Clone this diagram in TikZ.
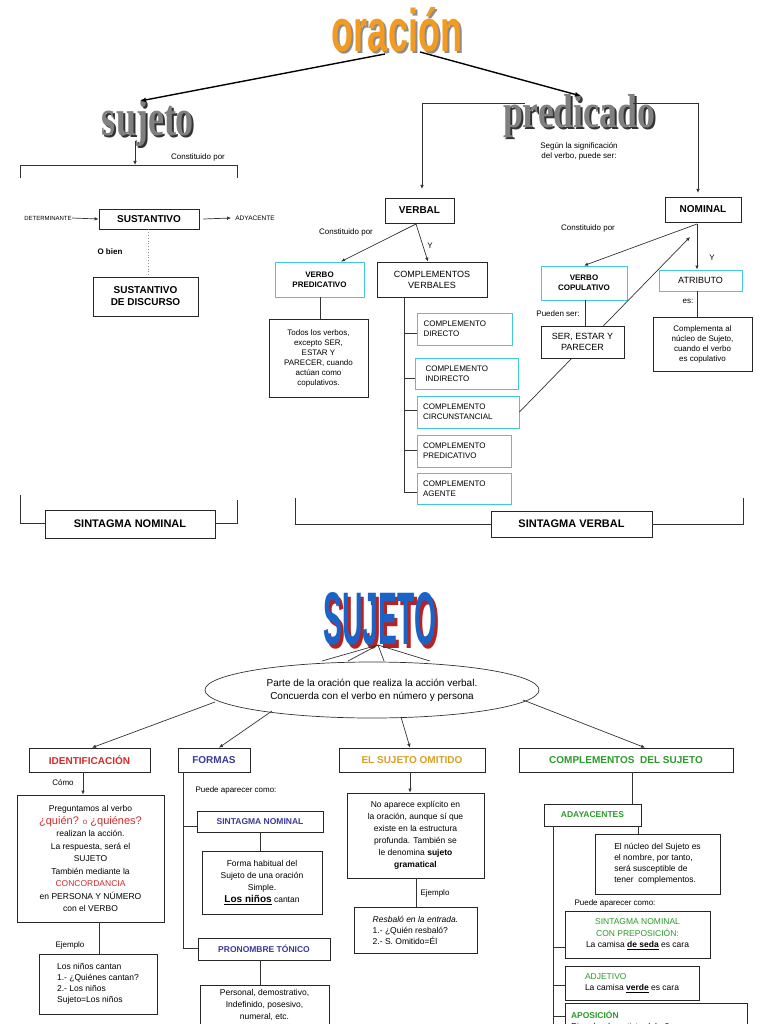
\documentclass[tikz,border=0pt]{standalone}
\usepackage{fontspec}
\setmainfont{Liberation Sans}
\newfontfamily\serifb{Liberation Serif}
\usetikzlibrary{shapes.geometric,arrows.meta}
\definecolor{cy}{HTML}{40C8DC}
\definecolor{rd}{HTML}{D42A2A}
\definecolor{ind}{HTML}{3A3A9A}
\definecolor{gd}{HTML}{D8A020}
\definecolor{gr}{HTML}{2A9A2A}
\definecolor{ora}{HTML}{F39A20}
\definecolor{bl}{HTML}{1A64C8}
\newcommand\bx[7]{\node[#6, minimum width={(#4-#2)*1pt}, minimum height={(#5-#3)*1pt}] (#1) at ({(#2+#4)/2},{(#3+#5)/2}) {#7};}
\begin{document}
\begin{tikzpicture}[x=1pt,y=-1pt,
  box/.style={draw=black!85,fill=white,line width=0.7pt,inner sep=1pt,align=center,font=\fontsize{9}{11}\selectfont},
  cbox/.style={box,draw=cy,line width=0.9pt},
  ccomp/.style={cbox,align=left,text width=82pt,font=\fontsize{8}{10}\selectfont},
  bb/.style={box,font=\fontsize{10}{12}\selectfont\bfseries},
  sm/.style={font=\fontsize{7.5}{9}\selectfont,align=center,inner sep=0pt},
  tx/.style={font=\fontsize{8}{10}\selectfont,align=center,inner sep=0pt},
  ln/.style={line width=0.7pt,black!80},
  ar/.style={ln,-{Latex[length=4pt,width=3.5pt]}},
  tar/.style={line width=1.4pt,black,-{Latex[length=6pt,width=5pt]}},
  lbox/.style={box,align=left,font=\fontsize{8.5}{11}\selectfont}]
\useasboundingbox (0,0) rectangle (768,1024);
% ---------- titles top
\node[inner sep=0,text=black!45] at (399,32) {\resizebox{130pt}{44pt}{\bfseries oración}};
\node[inner sep=0,text=ora] (orac) at (397,30) {\resizebox{130pt}{44pt}{\bfseries oración}};
\node[inner sep=0,text=black!80] at (150,125) {\resizebox{92pt}{36pt}{\serifb\bfseries sujeto}};
\node[inner sep=0,text=black!50] (suj) at (148,123) {\resizebox{92pt}{36pt}{\serifb\bfseries sujeto}};
\node[inner sep=0,text=black!80] at (581,118) {\resizebox{152pt}{33pt}{\serifb\bfseries predicado}};
\node[inner sep=0,text=black!50] (pred) at (579,116) {\resizebox{152pt}{33pt}{\serifb\bfseries predicado}};
\coordinate (o1) at (385,54); \coordinate (o2) at (420,52);
\coordinate (s1) at (140,101); \coordinate (p1) at (581,96);
\draw[tar] (o1) -- (s1);
\draw[tar] (o2) -- (p1);
% sujeto part
\coordinate (sa) at (135,141); \coordinate (sb) at (135,165);
\draw[ar] (sa) -- (sb);
\node[tx] (c1) at (198,157) {Constituido por};
\draw[ln] (20,178) -- (20,165) -- (237,165) -- (237,178);
\bx{sust}{99}{209}{199}{229}{bb}{SUSTANTIVO}
\node[sm,font=\fontsize{6}{7}\selectfont] (det) at (48,218) {DETERMINANTE};
\node[sm,font=\fontsize{6.5}{7}\selectfont] (ady) at (255,218) {ADYACENTE};
\draw[ar] (det.east) -- (sust.west);
\draw[ar] ([xshift=4pt]sust.east) -- ([xshift=-4pt]ady.west);
\bx{sdis}{93}{277}{198}{316}{bb}{SUSTANTIVO\\DE DISCURSO}
\draw[black!45,dotted,line width=0.8pt] (sust.south -| 148,0) -- (sdis.north -| 148,0);
\node[tx,font=\fontsize{8}{10}\selectfont\bfseries] (ob) at (110,252) {O bien};
% predicado part
\node[tx] (seg) at (579,151) {Según la significación\\del verbo, puede ser:};
\bx{verbal}{385}{198}{454}{223}{bb}{VERBAL}
\bx{nominal}{665}{197}{741}{222}{bb}{NOMINAL}
\coordinate (pl) at (525,103); \coordinate (pr) at (633,103);
\draw[ln] (pl) -- (422,103);
\draw[ar] (422,103) -- (422,189);
\draw[ln] (pr) -- (698,103);
\draw[ar] (698,103) -- (698,193);
\node[tx] (c2) at (346,232) {Constituido por};
\bx{vpred}{275}{262}{364}{297}{cbox,font=\fontsize{8}{10}\selectfont\bfseries}{VERBO\\PREDICATIVO}
\bx{cverb}{377}{262}{487}{297}{box}{COMPLEMENTOS\\VERBALES}
\coordinate (vb) at (416,224);
\draw[ar] (vb) -- (vpred.north -| 341,0);
\draw[ar] (vb) -- (cverb.north -| 428,0);
\node[tx] (y1) at (430,246) {Y};
\bx{todos}{269}{319}{368}{397}{box,font=\fontsize{8}{10}\selectfont}{Todos los verbos,\\excepto SER,\\ESTAR Y\\PARECER, cuando\\actúan como\\copulativos.}
\draw[ln] (vpred.south -| 320,0) -- (todos.north -| 320,0);
\bx{cd}{417}{313}{512}{345}{ccomp}{COMPLEMENTO\\DIRECTO}
\bx{ci}{415}{358}{518}{389}{ccomp}{COMPLEMENTO\\INDIRECTO}
\bx{cc}{417}{396}{519}{428}{ccomp,text width=90pt}{COMPLEMENTO\\CIRCUNSTANCIAL}
\bx{cp}{417}{435}{511}{467}{ccomp}{COMPLEMENTO\\PREDICATIVO}
\bx{ca}{417}{473}{511}{504}{ccomp}{COMPLEMENTO\\AGENTE}
\draw[ln] (cverb.south -| 404,0) -- (404,492);
\foreach \n/\yy in {cd/333,ci/378,cc/410,cp/450,ca/492} \draw[ln] (404,\yy) -- (\n.west |- 0,\yy);
\node[tx] (c3) at (588,228) {Constituido por};
\bx{vcop}{541}{266}{627}{300}{cbox,font=\fontsize{8}{10}\selectfont\bfseries}{VERBO\\COPULATIVO}
\bx{atr}{659}{270}{742}{291}{cbox}{ATRIBUTO}
\coordinate (nb) at (697,224);
\coordinate (nt) at (690,237);
\draw[ar] (cc.east) -- (nt);
\draw[ar] (nb) -- (vcop.north -| 584,0);
\draw[ar] (nb) -- (atr.north -| 697,0);
\node[tx] (y2) at (712,258) {Y};
\bx{ser}{541}{326}{624}{358}{box}{SER, ESTAR Y\\PARECER}
\node[tx] (ps) at (558,314) {Pueden ser:};
\draw[ln] (vcop.south -| 585,0) -- (ser.north -| 585,0);
\bx{compl}{653}{317}{752}{371}{box,font=\fontsize{8}{10}\selectfont}{Complementa al\\núcleo de Sujeto,\\cuando el verbo\\es copulativo}
\node[tx] (es) at (688,301) {es:};
\draw[ln] (atr.south -| 697,0) -- (compl.north -| 697,0);
% bottom brackets
\bx{snom}{45}{510}{215}{538}{bb,font=\fontsize{11}{13}\selectfont\bfseries}{SINTAGMA NOMINAL}
\bx{sver}{491}{511}{652}{537}{bb,font=\fontsize{11}{13}\selectfont\bfseries}{SINTAGMA VERBAL}
\draw[ln] (20,495) -- (20,523) -- (snom.west |- 0,523);
\draw[ln] (snom.east |- 0,523) -- (237,523) -- (237,500);
\draw[ln] (295,498) -- (295,524) -- (sver.west |- 0,524);
\draw[ln] (sver.east |- 0,524) -- (743,524) -- (743,498);
% ---------- second part
\node[inner sep=0,text=rd!85!black] at (383,623) {\resizebox{113pt}{52pt}{\bfseries SUJETO}};
\node[inner sep=0,text=bl] (SUJ) at (380,619) {\resizebox{113pt}{52pt}{\bfseries SUJETO}};
\node[ellipse,draw=black!80,line width=0.7pt,minimum width=334pt,minimum height=56pt,inner sep=0,align=center,font=\fontsize{10}{13}\selectfont] (ell) at (372,690) {Parte de la oración que realiza la acción verbal.\\Concuerda con el verbo en número y persona};
\coordinate (sj) at (378,645);
\foreach \xx in {322,348,384,430} \draw[ln] (sj) -- (\xx,661);
\bx{iden}{29}{748}{150}{772}{bb,text=rd}{IDENTIFICACIÓN}
\bx{form}{178}{748}{250}{772}{bb,text=ind}{FORMAS}
\bx{omit}{339}{748}{485}{772}{bb,text=gd}{EL SUJETO OMITIDO}
\bx{csuj}{519}{748}{733}{772}{bb,text=gr}{COMPLEMENTOS\ \ DEL SUJETO}
\draw[ar] (215,702) -- (iden.north -| 92,0);
\draw[ar] (272,711) -- (form.north -| 219,0);
\draw[ar] (401,717) -- (omit.north -| 410,0);
\draw[ar] (523,700) -- (csuj.north -| 645,0);
% identificación
\node[tx] (como) at (63,783) {Cómo};
\bx{preg}{17}{795}{164}{922}{box,font=\fontsize{8.5}{12.5}\selectfont}{Preguntamos al verbo\\{\color{rd}\fontsize{11}{13}\selectfont ¿quién? {\fontsize{8}{10}\selectfont o} ¿quiénes?}\\realizan la acción.\\La respuesta, será el\\SUJETO\\También mediante la\\{\color{rd}CONCORDANCIA}\\en PERSONA Y NÚMERO\\con el VERBO}
\draw[ar] (iden.south -| 83,0) -- (preg.north -| 83,0);
\bx{ej1}{39}{954}{157}{1014}{lbox}{Los niños cantan\\1.- ¿Quiénes cantan?\\2.- Los niños\\Sujeto=Los niños}
\draw[ln] (preg.south -| 99,0) -- (ej1.north -| 99,0);
\node[tx] (e1) at (70,945) {Ejemplo};
% formas
\node[tx] (pa1) at (236,790) {Puede aparecer como:};
\bx{sn}{197}{811}{323}{832}{box,font=\fontsize{8.5}{10}\selectfont\bfseries,text=ind}{SINTAGMA NOMINAL}
\bx{fh}{202}{851}{322}{914}{box,font=\fontsize{8.5}{12}\selectfont}{Forma habitual del\\Sujeto de una oración\\Simple.\\{\fontsize{10}{12}\selectfont\bfseries\underline{Los niños}} cantan}
\bx{pt}{198}{938}{330}{960}{box,font=\fontsize{8.5}{10}\selectfont\bfseries,text=ind}{PRONOMBRE TÓNICO}
\bx{pers}{200}{985}{329}{1040}{box,font=\fontsize{8.5}{12}\selectfont}{Personal, demostrativo,\\Indefinido, posesivo,\\numeral, etc.\\\strut}
\draw[ln] (form.south -| 183,0) -- (183,948) -- (pt.west |- 0,948);
\draw[ln] (183,826) -- (sn.west |- 0,826);
\draw[ln] (sn.south -| 260,0) -- (fh.north -| 260,0);
\draw[ln] (pt.south -| 260,0) -- (pers.north -| 260,0);
% omitido
\bx{noap}{347}{793}{484}{878}{box,font=\fontsize{8.5}{12}\selectfont}{No aparece explícito en\\la oración, aunque sí que\\existe en la estructura\\profunda. También se\\le denomina \textbf{sujeto}\\\textbf{gramatical}}
\draw[ar] (omit.south -| 410,0) -- (noap.north -| 410,0);
\bx{resb}{354}{907}{477}{953}{lbox}{\textit{Resbaló en la entrada.}\\1.- ¿Quién resbaló?\\2.- S. Omitido=Él}
\draw[ln] (noap.south -| 416,0) -- (resb.north -| 416,0);
\node[tx] (e2) at (435,893) {Ejemplo};
% complementos
\bx{adya}{544}{804}{641}{826}{bb,font=\fontsize{8.5}{10}\selectfont\bfseries,text=gr}{ADAYACENTES}
\draw[ln] (csuj.south -| 632,0) -- (adya.north -| 632,0);
\bx{nuc}{595}{834}{720}{894}{lbox}{El núcleo del Sujeto es\\el nombre, por tanto,\\será susceptible de\\tener\ \ complementos.}
\draw[ln] (adya.south -| 638,0) -- (nuc.north -| 638,0);
\node[tx] (pa2) at (615,903) {Puede aparecer como:};
\bx{sncp}{565}{911}{710}{958}{box,font=\fontsize{8.5}{11.5}\selectfont}{{\color{gr}SINTAGMA NOMINAL}\\{\color{gr}CON PREPOSICIÓN:}\\La camisa \textbf{\underline{de seda}} es cara}
\bx{adj}{565}{966}{699}{1000}{lbox}{{\color{gr}ADJETIVO}\\La camisa \textbf{\underline{verde}} es cara}
\bx{apos}{565}{1003}{747}{1040}{lbox,text width=170pt}{{\color{gr}\bfseries APOSICIÓN}\\Ricardo, deportista del año, es}
\draw[ln] (adya.south -| 553,0) -- (553,1024);
\foreach \n/\yy in {sncp/947,adj/985,apos/1016} \draw[ln] (553,\yy) -- (\n.west |- 0,\yy);
\end{tikzpicture}
\end{document}
